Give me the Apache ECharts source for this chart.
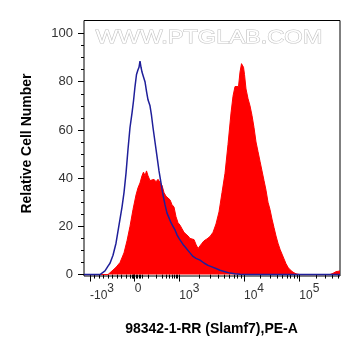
<!DOCTYPE html>
<html>
<head>
<meta charset="utf-8">
<script src="https://cdn.jsdelivr.net/npm/echarts@6/dist/echarts.min.js"></script>
<style>html,body{margin:0;padding:0;background:#fff}#c{width:361px;height:356px}</style>
</head>
<body>
<div id="c"></div>
<script>
// ---- data (x = display channel 0..256 of the biexponential PE-A axis, y = relative cell number) ----
const redChannel = [0,16,24,28,32,36,40,43,46,49,52,54,56,58,59.5,61,62.5,64,66,68,70,72,74,76,78,80,82,84,86,88,90,92,94,96,98,100,102,104,106,108,110,112,114,116,118,120,123,126,129,132,135,138,141,144,147,149,151,153,154.5,156,157.5,158.5,159.5,160.5,162,164,166,168,170,172,174,176,178,180,182,184,186,188,190,192,194,196,198,200,202,204,206,209,212,216,246,249,252,256];
const redCount   = [0,0,0,1.5,3,5,9,14,20,27,33,36,38,41,42.5,41,43,41,39,38.5,39.5,38.5,39.5,39,37,34,32.5,32,31,29,28,24,21.5,20.5,19,17.5,17.5,16,15,15,14.5,12.5,10.8,11.5,13,14,14.8,15.8,17.5,21,26,34,42,54,67,74,78,78.5,78,84,87.5,88,86,83,77,73,70,66,61,55,51,47,43,39,35,30,27,23,19.5,16,13,10.5,8.5,6.5,4.5,3,2,1,0.3,0,0,0.5,1.2,1.5];
const blueChannel = [0,16,18,21,24,26,29,32,34,36,38,40,42,44,46,48,49.5,51,52.5,54,55,56,57,58,59.5,61,62.5,64,66,67.5,69,71,73,75,77,79,81,83,85,87,89,91,93,95,97,99,101,103,106,109,112,116,120,124,128,132,136,141,146,151,156,166,256];
const blueCount   = [0,0,0.3,1.5,3.5,4.7,8,13,18,23,28,34,42,52,61,67,72,78,83,85,86,88.5,86,84,82,80,76,72.5,70,66,61,55,49,43,38,33,29,25.5,23.5,21.5,20,18.5,16.5,15,14.5,12.5,11.5,10.5,9,7.5,6.7,6,4.8,3.8,3.2,2.5,1.8,1.2,0.6,0.3,0.1,0,0];

// ---- axis ticks ----
const majorTickValues = [-1000, 0, 1000, 10000, 100000];
const majorTickLabels = ['{n|-10}{s|3}', '{n|0}', '{n|10}{s|3}', '{n|10}{s|4}', '{n|10}{s|5}'];
const minorTickValues = [-900,-800,-700,-600,-500,-400,-300,-200,-100,-50,-40,-30,-20,-10,10,20,30,40,50,
  100,200,300,400,500,600,700,800,900,2000,3000,4000,5000,6000,7000,8000,9000,
  20000,30000,40000,50000,60000,70000,80000,90000,200000,300000,400000,500000];
const yMajorTicks = [0, 20, 40, 60, 80, 100];
const yMinorTicks = [5,10,15,25,30,35,45,50,55,65,70,75,85,90,95];

// biexponential-like display transform: value -> channel
function toChannel(v) {
  const cNeg = 6, c0 = 50.7, c1 = 95.3, c2 = 160, c3 = 215.3;
  if (v < 0) return c0 + (v / 1000) * (c0 - cNeg);
  if (v <= 1000) return c0 + (c1 - c0) * Math.asinh(v / 100) / Math.asinh(10);
  if (v <= 10000) return c1 + (c2 - c1) * Math.log10(v / 1000);
  return c2 + (c3 - c2) * Math.log10(v / 10000);
}
const majorCh = majorTickValues.map(toChannel);
const minorCh = minorTickValues.map(toChannel);

const FONT = '"Liberation Sans", Arial, sans-serif';
const chart = echarts.init(document.getElementById('c'), null, {renderer: 'canvas'});
const xBase = {type: 'value', min: 0, max: 256, position: 'bottom', splitLine: {show: false}, axisLine: {show: false}};
const yBase = {type: 'value', min: -0.6, max: 105.4, position: 'left', splitLine: {show: false}, axisLine: {show: false}};

chart.setOption({
  animation: false,
  backgroundColor: '#fff',
  grid: {left: 84, right: 21, top: 20.5, bottom: 80, show: true, borderColor: '#000', borderWidth: 1, backgroundColor: '#fff'},
  xAxis: [
    Object.assign({}, xBase, {
      axisTick: {show: true, customValues: majorCh, length: 7, lineStyle: {color: '#000', width: 1}},
      axisLabel: {show: true, customValues: majorCh, align: 'left', margin: 7,
        formatter: function (val) {
          let best = 0;
          for (let i = 1; i < majorCh.length; i++) if (Math.abs(majorCh[i] - val) < Math.abs(majorCh[best] - val)) best = i;
          return majorTickLabels[best];
        },
        rich: {
          n: {fontSize: 12, fontFamily: FONT, color: '#333'},
          s: {fontSize: 12, fontFamily: FONT, color: '#333', padding: [0, 0, 14, 0]}
        }}
    }),
    Object.assign({}, xBase, {
      axisTick: {show: true, customValues: minorCh, length: 4, lineStyle: {color: '#000', width: 1}},
      axisLabel: {show: false}
    })
  ],
  yAxis: [
    Object.assign({}, yBase, {
      axisTick: {show: true, customValues: yMajorTicks, length: 6, lineStyle: {color: '#000', width: 1}},
      axisLabel: {show: true, customValues: yMajorTicks, margin: 11, fontSize: 13, fontFamily: FONT, color: '#333'}
    }),
    Object.assign({}, yBase, {
      offset: 0,
      axisTick: {show: true, customValues: yMinorTicks, length: 3, lineStyle: {color: '#000', width: 1}},
      axisLabel: {show: false}
    })
  ],
  series: [
    {
      type: 'line', xAxisIndex: 0, yAxisIndex: 0, showSymbol: false, smooth: false,
      data: redChannel.map((c, i) => [c, redCount[i]]),
      lineStyle: {color: '#ff0000', width: 1},
      areaStyle: {color: '#ff0000', opacity: 1},
      z: 2
    },
    {
      type: 'line', xAxisIndex: 0, yAxisIndex: 0, showSymbol: false, smooth: false,
      data: blueChannel.map((c, i) => [c, blueCount[i]]),
      lineStyle: {color: '#1f1f9a', width: 1.5},
      z: 3
    }
  ],
  graphic: [
    {type: 'text', x: 209, y: 38.5, scaleX: 1.31, z: 10,
      style: {text: 'WWW.PTGLAB.COM', font: '18px ' + FONT, fill: '#ffffff', stroke: '#c4c4c4', lineWidth: 1, align: 'center', verticalAlign: 'middle'}},
    {type: 'text', x: 27.5, y: 143.5, rotation: Math.PI / 2,
      style: {text: 'Relative Cell Number', font: 'bold 14px ' + FONT, fill: '#000', align: 'center', verticalAlign: 'middle'}},
    {type: 'text', x: 211.5, y: 329,
      style: {text: '98342-1-RR (Slamf7),PE-A', font: 'bold 14px ' + FONT, fill: '#000', align: 'center', verticalAlign: 'middle'}}
  ]
});
</script>
</body>
</html>
